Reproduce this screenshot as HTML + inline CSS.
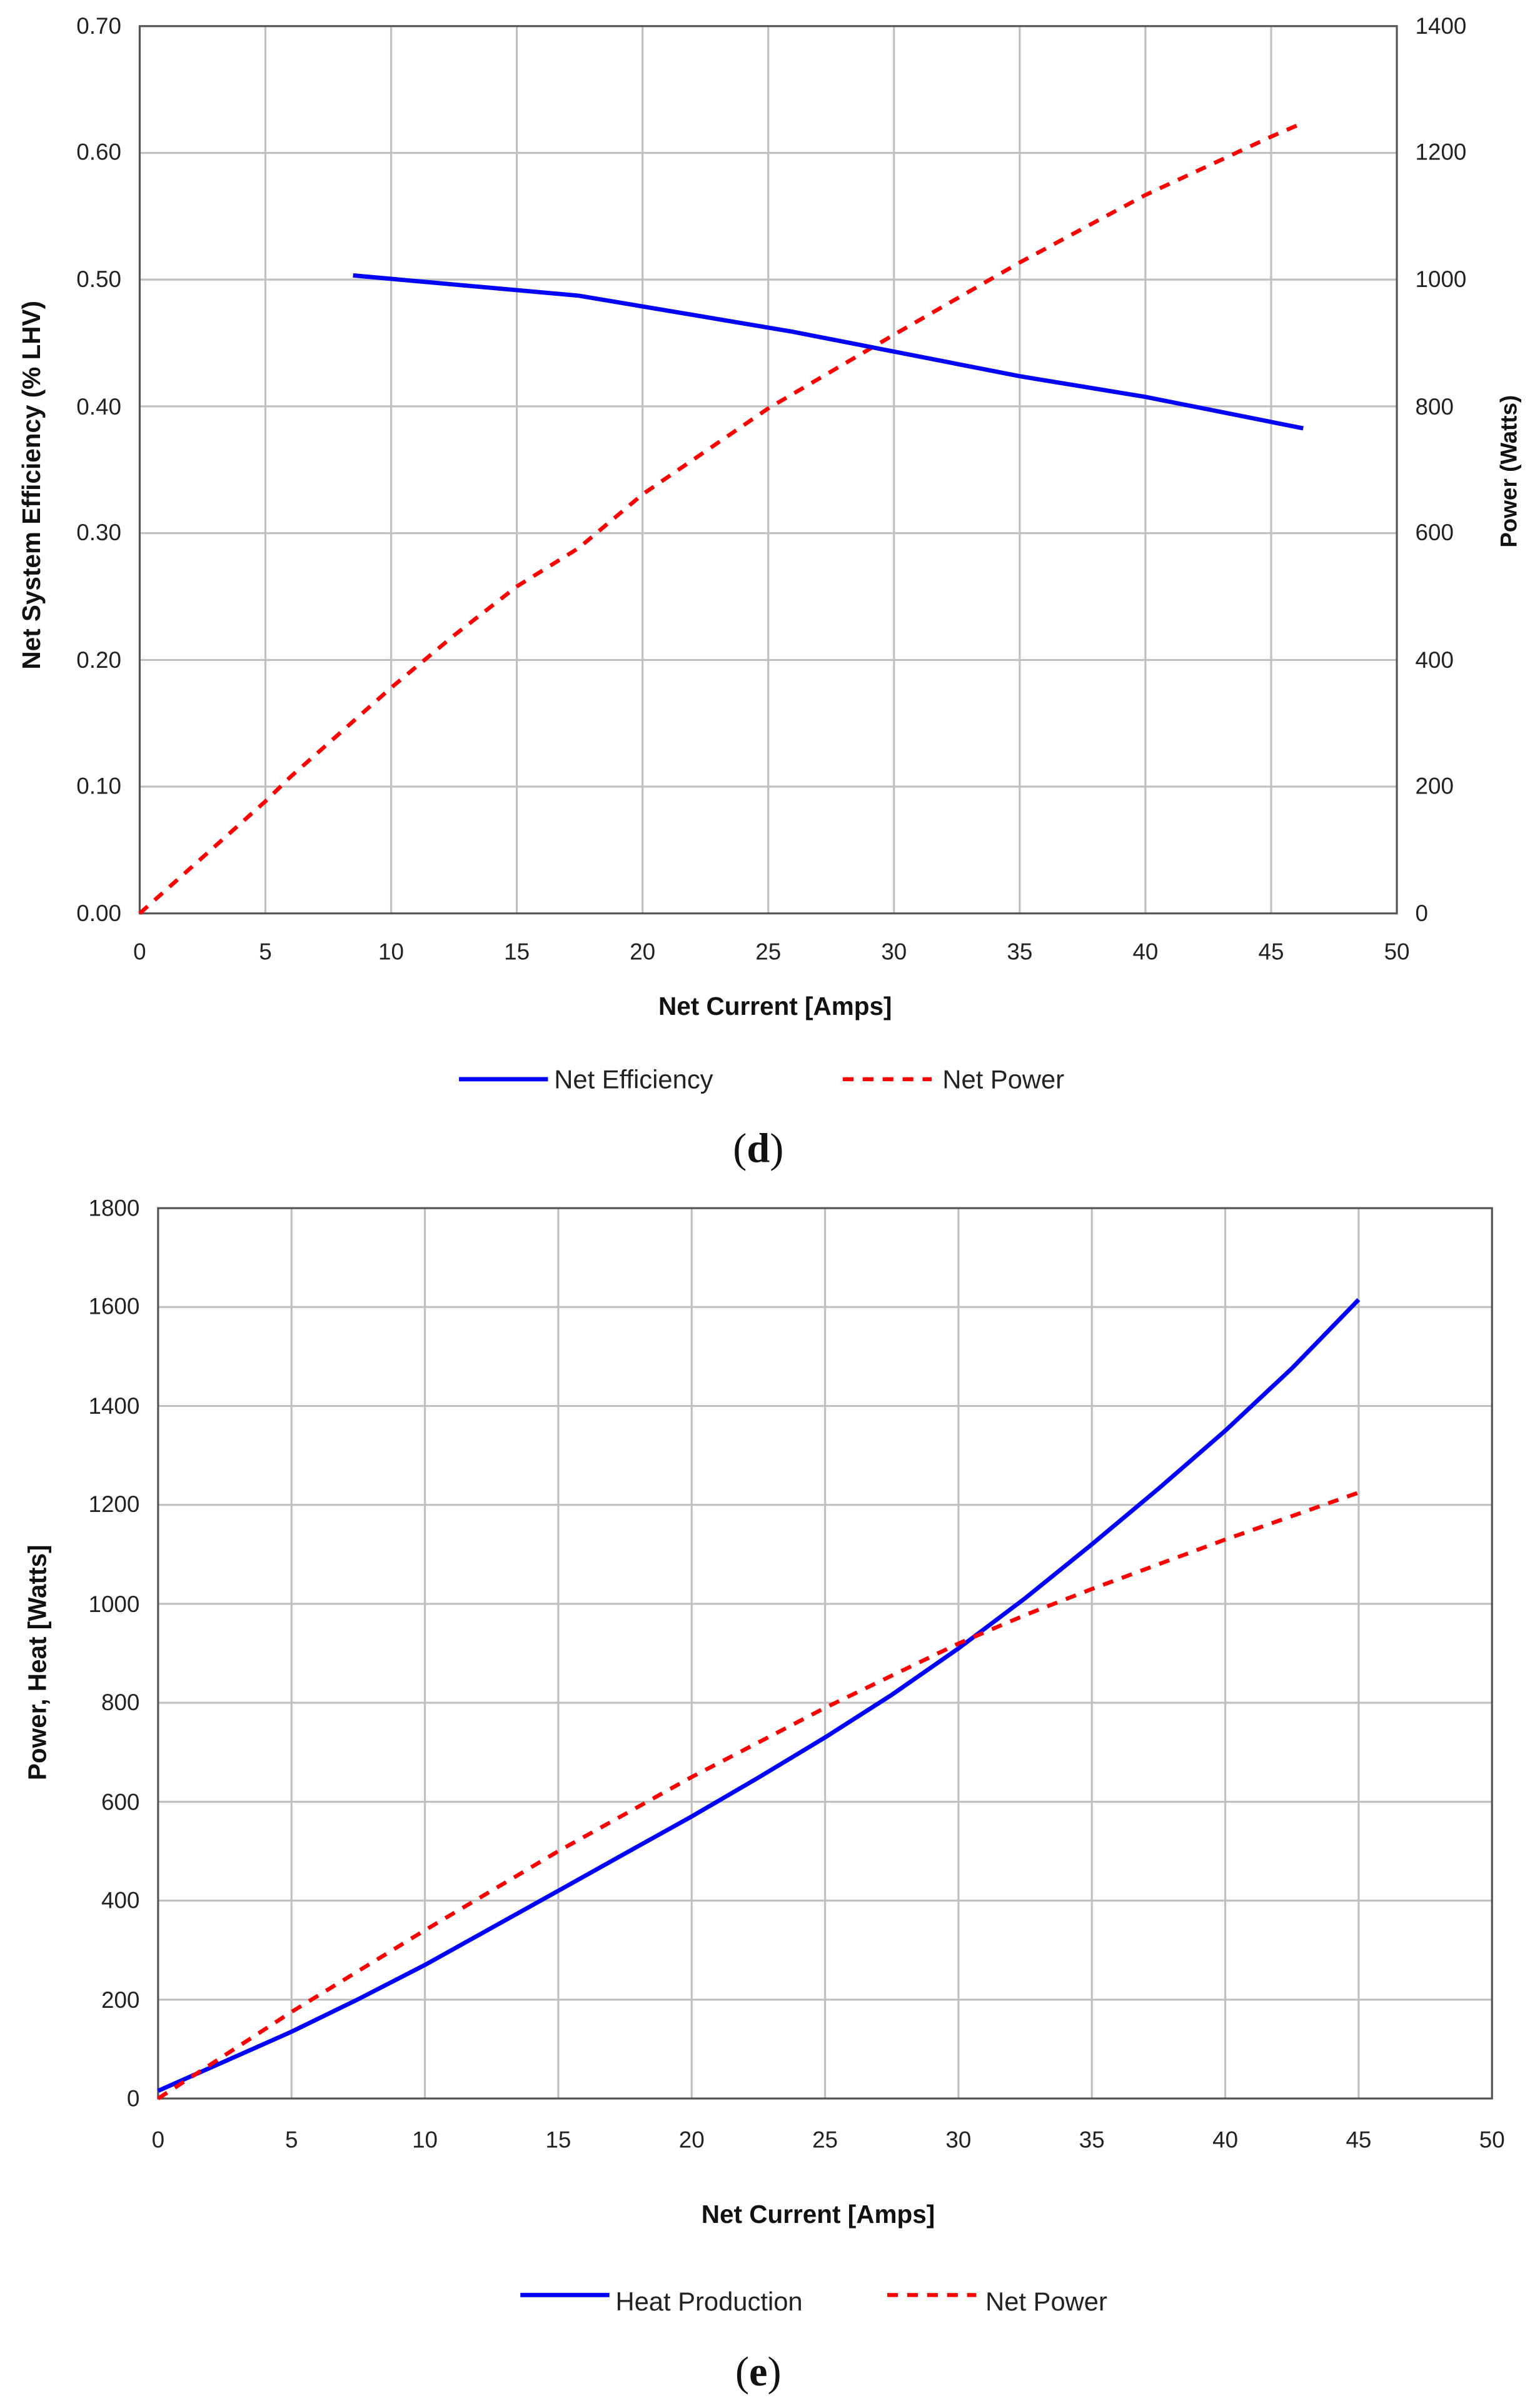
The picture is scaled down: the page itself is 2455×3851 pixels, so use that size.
<!DOCTYPE html>
<html><head><meta charset="utf-8"><style>html,body{margin:0;padding:0;background:#fff}svg{display:block}</style></head>
<body>
<svg width="2455" height="3851" viewBox="0 0 1000 1568.6" xmlns="http://www.w3.org/2000/svg" font-family="Liberation Sans, sans-serif">
<rect width="1000" height="1568.6" fill="#fff"/>
<!-- Chart d -->
<g stroke="#c0c0c0" stroke-width="1.3">
<line x1="172.9" y1="17" x2="172.9" y2="595"/><line x1="254.8" y1="17" x2="254.8" y2="595"/><line x1="336.7" y1="17" x2="336.7" y2="595"/><line x1="418.6" y1="17" x2="418.6" y2="595"/><line x1="500.5" y1="17" x2="500.5" y2="595"/><line x1="582.4" y1="17" x2="582.4" y2="595"/><line x1="664.3" y1="17" x2="664.3" y2="595"/><line x1="746.2" y1="17" x2="746.2" y2="595"/><line x1="828.1" y1="17" x2="828.1" y2="595"/>
<line x1="91" y1="99.6" x2="910" y2="99.6"/><line x1="91" y1="182.1" x2="910" y2="182.1"/><line x1="91" y1="264.7" x2="910" y2="264.7"/><line x1="91" y1="347.3" x2="910" y2="347.3"/><line x1="91" y1="429.9" x2="910" y2="429.9"/><line x1="91" y1="512.4" x2="910" y2="512.4"/>
</g>
<rect x="91" y="17" width="819" height="578" fill="none" stroke="#555" stroke-width="1.3"/>
<g font-size="15" fill="#222" text-anchor="end">
<text x="79" y="22">0.70</text><text x="79" y="104">0.60</text><text x="79" y="187">0.50</text><text x="79" y="270">0.40</text><text x="79" y="352">0.30</text><text x="79" y="435">0.20</text><text x="79" y="517">0.10</text><text x="79" y="600">0.00</text>
</g>
<g font-size="15" fill="#222" text-anchor="start">
<text x="922" y="22">1400</text><text x="922" y="104">1200</text><text x="922" y="187">1000</text><text x="922" y="270">800</text><text x="922" y="352">600</text><text x="922" y="435">400</text><text x="922" y="517">200</text><text x="922" y="600">0</text>
</g>
<g font-size="15" fill="#222" text-anchor="middle">
<text x="91" y="625">0</text><text x="172.9" y="625">5</text><text x="254.8" y="625">10</text><text x="336.7" y="625">15</text><text x="418.6" y="625">20</text><text x="500.5" y="625">25</text><text x="582.4" y="625">30</text><text x="664.3" y="625">35</text><text x="746.2" y="625">40</text><text x="828.1" y="625">45</text><text x="910" y="625">50</text>
</g>
<text x="505" y="661" font-size="16.5" font-weight="bold" text-anchor="middle" fill="#111">Net Current [Amps]</text>
<text transform="translate(26,316) rotate(-90)" font-size="16.5" font-weight="bold" text-anchor="middle" fill="#111">Net System Efficiency (% LHV)</text>
<text transform="translate(988,307) rotate(-90)" font-size="15" font-weight="bold" text-anchor="middle" fill="#111">Power (Watts)</text>
<polyline fill="none" stroke="#ff0000" stroke-width="2.6" stroke-dasharray="7,6" points="91,595 172.9,522 189.3,506 254.8,448 295.7,414 336.7,382 377,357 418.6,322 500.5,266 582.4,218 664.3,171 746.2,127 828.1,89 849,80"/>
<polyline fill="none" stroke="#0000ff" stroke-width="2.8" points="230,179.4 377,192.6 516,216 664,245 746,258.5 849,279"/>
<line x1="299" y1="703" x2="357" y2="703" stroke="#0000ff" stroke-width="2.8"/>
<text x="361" y="709" font-size="17" fill="#222">Net Efficiency</text>
<line x1="549" y1="703" x2="607" y2="703" stroke="#ff0000" stroke-width="2.6" stroke-dasharray="7,6"/>
<text x="614" y="709" font-size="17" fill="#222">Net Power</text>
<text x="494" y="757" font-size="27" font-family="Liberation Serif, serif" text-anchor="middle" fill="#111">(<tspan font-weight="bold">d</tspan>)</text>
<!-- Chart e -->
<g stroke="#c0c0c0" stroke-width="1.3">
<line x1="189.9" y1="787" x2="189.9" y2="1367"/><line x1="276.8" y1="787" x2="276.8" y2="1367"/><line x1="363.7" y1="787" x2="363.7" y2="1367"/><line x1="450.6" y1="787" x2="450.6" y2="1367"/><line x1="537.5" y1="787" x2="537.5" y2="1367"/><line x1="624.4" y1="787" x2="624.4" y2="1367"/><line x1="711.3" y1="787" x2="711.3" y2="1367"/><line x1="798.2" y1="787" x2="798.2" y2="1367"/><line x1="885.1" y1="787" x2="885.1" y2="1367"/>
<line x1="103" y1="851.4" x2="972" y2="851.4"/><line x1="103" y1="915.9" x2="972" y2="915.9"/><line x1="103" y1="980.3" x2="972" y2="980.3"/><line x1="103" y1="1044.8" x2="972" y2="1044.8"/><line x1="103" y1="1109.2" x2="972" y2="1109.2"/><line x1="103" y1="1173.7" x2="972" y2="1173.7"/><line x1="103" y1="1238.1" x2="972" y2="1238.1"/><line x1="103" y1="1302.6" x2="972" y2="1302.6"/>
</g>
<rect x="103" y="787" width="869" height="580" fill="none" stroke="#555" stroke-width="1.3"/>
<g font-size="15" fill="#222" text-anchor="end">
<text x="91" y="792">1800</text><text x="91" y="856">1600</text><text x="91" y="921">1400</text><text x="91" y="985">1200</text><text x="91" y="1050">1000</text><text x="91" y="1114">800</text><text x="91" y="1179">600</text><text x="91" y="1243">400</text><text x="91" y="1308">200</text><text x="91" y="1372">0</text>
</g>
<g font-size="15" fill="#222" text-anchor="middle">
<text x="103" y="1399">0</text><text x="189.9" y="1399">5</text><text x="276.8" y="1399">10</text><text x="363.7" y="1399">15</text><text x="450.6" y="1399">20</text><text x="537.5" y="1399">25</text><text x="624.4" y="1399">30</text><text x="711.3" y="1399">35</text><text x="798.2" y="1399">40</text><text x="885.1" y="1399">45</text><text x="972" y="1399">50</text>
</g>
<text x="533" y="1448" font-size="16.5" font-weight="bold" text-anchor="middle" fill="#111">Net Current [Amps]</text>
<text transform="translate(30,1083) rotate(-90)" font-size="16.5" font-weight="bold" text-anchor="middle" fill="#111">Power, Heat [Watts]</text>
<polyline fill="none" stroke="#0000ff" stroke-width="2.8" points="103,1362 146,1343 189.9,1323.5 233,1302.5 276.8,1280 320,1256 363.7,1231.7 407,1207.5 450.6,1183.3 494,1158 537.5,1131.8 581,1104 624.4,1073.8 668,1041 711.3,1006 755,969.5 798.2,932 842,891 885.1,846.6"/>
<polyline fill="none" stroke="#ff0000" stroke-width="2.6" stroke-dasharray="7,6" points="103,1367 189.9,1310.6 276.8,1257.4 363.7,1205.9 450.6,1157.6 537.5,1112.5 624.4,1070.6 668,1052 711.3,1035.1 798.2,1002.9 885.1,972.3"/>
<line x1="339" y1="1495" x2="397" y2="1495" stroke="#0000ff" stroke-width="2.8"/>
<text x="401" y="1505" font-size="17" fill="#222">Heat Production</text>
<line x1="578" y1="1495" x2="636" y2="1495" stroke="#ff0000" stroke-width="2.6" stroke-dasharray="7,6"/>
<text x="642" y="1505" font-size="17" fill="#222">Net Power</text>
<text x="494" y="1554" font-size="27" font-family="Liberation Serif, serif" text-anchor="middle" fill="#111">(<tspan font-weight="bold">e</tspan>)</text>
</svg>
</body></html>
